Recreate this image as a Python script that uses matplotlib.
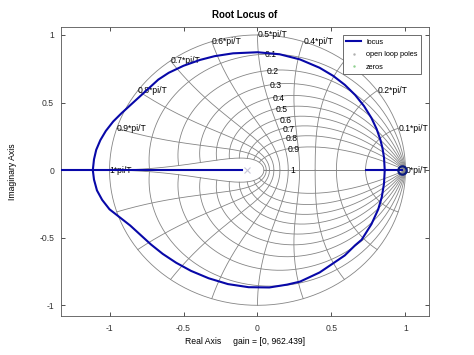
import numpy as np
import matplotlib
matplotlib.use("Agg")
import matplotlib.pyplot as plt

# ---- data ----
# upper branch of the complex locus (right to left)
upper_x = [0.86, 0.855, 0.845, 0.83, 0.805, 0.77, 0.72, 0.66, 0.59, 0.512, 0.42, 0.287, 0.15, 0.0,
           -0.165, -0.29, -0.389, -0.5, -0.6, -0.67, -0.73, -0.80, -0.86, -0.92, -0.975, -1.025,
           -1.062, -1.09, -1.105, -1.113]
upper_y = [0.0, 0.094, 0.161, 0.227, 0.305, 0.386, 0.474, 0.556, 0.631, 0.697, 0.757, 0.819, 0.857, 0.872,
           0.864, 0.843, 0.815, 0.772, 0.72, 0.67, 0.61, 0.54, 0.48, 0.42, 0.36, 0.29,
           0.222, 0.15, 0.08, 0.0]
# lower branch of the complex locus (left to right)
lower_x = [-1.113, -1.105, -1.085, -1.05, -1.0, -0.93, -0.86, -0.79, -0.72, -0.64, -0.55, -0.45, -0.33,
           -0.2, -0.06, 0.08, 0.2, 0.287, 0.42, 0.512, 0.59, 0.66, 0.704, 0.77, 0.816, 0.84, 0.855, 0.86]
lower_y = [0.0, -0.07, -0.15, -0.22, -0.29, -0.35, -0.41, -0.48, -0.55, -0.62, -0.685, -0.745, -0.8,
           -0.843, -0.866, -0.868, -0.847, -0.825, -0.757, -0.689, -0.631, -0.556, -0.515, -0.4, -0.29,
           -0.2, -0.1, 0.0]
# real-axis segments of the locus
real_seg_left = [-1.5, -0.107]
real_seg_right = [0.735, 0.975]
pole_marker = [0.975]
faint_marker = [-0.068]
gain_range = [0, 962.439]

zeta_vals = [0.0, 0.1, 0.2, 0.3, 0.4, 0.5, 0.6, 0.7, 0.8, 0.9, 1.0]
zeta_labels = ["", "0.1", "0.2", "0.3", "0.4", "0.5", "0.6", "0.7", "0.8", "0.9", "1"]
wn_vals = [0.0, 0.1, 0.2, 0.3, 0.4, 0.5, 0.6, 0.7, 0.8, 0.9, 1.0]
wn_labels = ["0*pi/T", "0.1*pi/T", "0.2*pi/T", "0.3*pi/T", "0.4*pi/T", "0.5*pi/T",
             "0.6*pi/T", "0.7*pi/T", "0.8*pi/T", "0.9*pi/T", "1*pi/T"]
xticks = [-1, -0.5, 0, 0.5, 1]
yticks = [-1, -0.5, 0, 0.5, 1]
tick_labels = ['-1', '-0.5', '0', '0.5', '1']

plt.rcParams['font.family'] = ['Liberation Sans', 'DejaVu Sans']
fig = plt.figure(figsize=(4.74, 3.55), dpi=100)
ax = fig.add_axes([0.1287, 0.1099, 0.7763, 0.8149])

gcol = '#858585'
glw = 0.6
# constant damping curves
wt = np.linspace(0, np.pi, 200)
for z in zeta_vals:
    s = -z + 1j * np.sqrt(1 - z ** 2)
    zz = np.exp(wt * s)
    ax.plot(zz.real, zz.imag, color=gcol, lw=glw, zorder=1)
    ax.plot(zz.real, -zz.imag, color=gcol, lw=glw, zorder=1)
# constant natural-frequency curves
zt = np.linspace(0, 1, 200)
for w in wn_vals[1:]:
    zz = np.exp(w * np.pi * (-zt + 1j * np.sqrt(1 - zt ** 2)))
    ax.plot(zz.real, zz.imag, color=gcol, lw=glw, zorder=1)
    ax.plot(zz.real, -zz.imag, color=gcol, lw=glw, zorder=1)

fs = 6.2
for z, lab in zip(zeta_vals, zeta_labels):
    if not lab:
        continue
    p = np.exp(np.pi / 2 * (-z + 1j * np.sqrt(1 - z ** 2)))
    ax.text(p.real + 0.045 - 0.03 * z, p.imag, lab, fontsize=fs, ha='left', va='center', zorder=3)
for w, lab in zip(wn_vals, wn_labels):
    p = np.exp(1j * w * np.pi)
    ax.text(p.real, p.imag, lab, fontsize=fs, ha='left', va='center', zorder=3)

lcol = '#0808a8'
ax.plot(upper_x, upper_y, color=lcol, lw=1.5, zorder=4, label='locus', solid_joinstyle='round')
ax.plot(lower_x, lower_y, color=lcol, lw=1.5, zorder=4, solid_joinstyle='round')
ax.plot(real_seg_left, [0, 0], color=lcol, lw=1.5, zorder=4)
ax.plot(real_seg_right, [0, 0], color=lcol, lw=1.5, zorder=4)
ax.plot(faint_marker, [0], 'x', color='#c8c8d8', ms=5, mew=0.8, zorder=5)
ax.plot(pole_marker, [0], 'o', mfc='none', mec='#0a1a80', mew=1.6, ms=6, zorder=5)
ax.plot([], [], '.', color='#b0b0b0', ms=1.5, label='open loop poles')
ax.plot([], [], '.', color='#90d090', ms=1.5, label='zeros')

ax.set_xlim(-1.328, 1.159)
ax.set_ylim(-1.079, 1.061)
ax.set_xticks(xticks)
ax.set_xticklabels(tick_labels)
ax.set_yticks(yticks)
ax.set_yticklabels(tick_labels)
ax.tick_params(direction='in', length=3, width=0.6, colors='#333333', labelsize=fs,
               top=True, right=True)
ax.tick_params(axis='x', pad=6)
ax.tick_params(axis='y', pad=5)
for sp in ax.spines.values():
    sp.set_color('#555555')
    sp.set_linewidth(0.6)

ax.set_title('Root Locus of', fontsize=7, fontweight='bold', pad=6)
ax.set_xlabel('Real Axis     gain = [%g, %g]' % (gain_range[0], gain_range[1]), fontsize=fs)
ax.xaxis.set_label_coords(0.501, -0.0716)
ax.set_ylabel('Imaginary Axis', fontsize=fs)
ax.yaxis.set_label_coords(-0.1196, 0.5)

leg = ax.legend(loc='upper right', bbox_to_anchor=(0.9785, 0.971), fontsize=5.3, frameon=True,
                fancybox=False, edgecolor='#555555', framealpha=1, handlelength=2.0,
                borderaxespad=0.0, labelspacing=0.75, handletextpad=0.7, borderpad=0.45)
leg.get_frame().set_linewidth(0.6)

fig.savefig('out.png', dpi=100)
